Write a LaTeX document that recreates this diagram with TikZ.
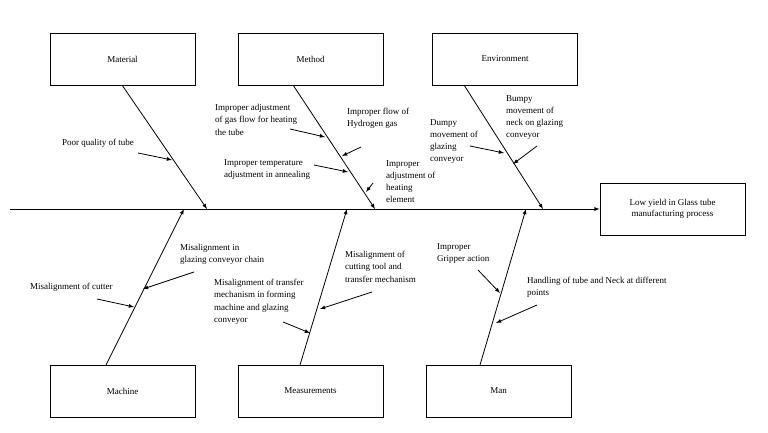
\documentclass[tikz,border=0pt]{standalone}
\usepackage{fontspec}
\setmainfont{Liberation Serif}
\begin{document}
\begin{tikzpicture}[x=1pt,y=-1pt,
  box/.style={draw,thick,minimum width=145pt,minimum height=52pt,font=\fontsize{9}{11}\selectfont},
  lbl/.style={anchor=north west,inner sep=0pt,align=left,font=\fontsize{9}{12.3}\selectfont},
  bone/.style={thick,-latex},
  sub/.style={thick,-latex}]
\useasboundingbox (0,0) rectangle (768,433);
\node[box] (mat) at (122.5,59) {Material};
\node[box] (met) at (310.5,59) {Method};
\node[box] (env) at (505,59) {Environment};
\node[box,align=center] (eff) at (672.5,209) {Low yield in Glass tube\\manufacturing process};
\node[box] (mac) at (122.5,391) {Machine};
\node[box] (mea) at (310.5,391) {Measurements};
\node[box] (man) at (498.5,391) {Man};
\coordinate (s0) at (10,209);
\draw[thick,-latex] (s0) -- (eff.west);
% bones
\coordinate (mt) at (122,85); \coordinate (mb) at (207,209);
\coordinate (et) at (293,85); \coordinate (eb) at (375,209);
\coordinate (nt) at (464,85); \coordinate (nb) at (543,209);
\coordinate (ct) at (106,365); \coordinate (cb) at (184,209);
\coordinate (ut) at (300,365); \coordinate (ub) at (347,209);
\coordinate (at) at (480,365); \coordinate (ab) at (526,209);
\draw[bone] (mt) -- (mb);
\draw[bone] (et) -- (eb);
\draw[bone] (nt) -- (nb);
\draw[bone] (ct) -- (cb);
\draw[bone] (ut) -- (ub);
\draw[bone] (at) -- (ab);
% labels
\node[lbl] (l1) at (62,139) {Poor quality of tube};
\node[lbl] (l2) at (215,104) {Improper adjustment\\of gas flow for heating\\the tube};
\node[lbl] (l3) at (347,108) {Improper flow of\\Hydrogen gas};
\node[lbl] (l4) at (224,159) {Improper temperature\\adjustment in annealing};
\node[lbl] (l5) at (386,160) {Improper\\adjustment of\\heating\\element};
\node[lbl] (l6) at (430,119) {Dumpy\\movement of\\glazing\\conveyor};
\node[lbl] (l7) at (506,95) {Bumpy\\movement of\\neck on glazing\\conveyor};
\node[lbl] (l8) at (180,244) {Misalignment in\\glazing conveyor chain};
\node[lbl] (l9) at (30,283) {Misalignment of cutter};
\node[lbl] (l10) at (345,251) {Misalignment of\\cutting tool and\\transfer mechanism};
\node[lbl] (l11) at (214,279) {Misalignment of transfer\\mechanism in forming\\machine and glazing\\conveyor};
\node[lbl] (l12) at (437,243) {Improper\\Gripper action};
\node[lbl] (l13) at (527,277) {Handling of tube and Neck at different\\points};
% sub arrows
\coordinate (a1) at (138,153); \coordinate (b1) at (172,160);
\coordinate (a2) at (290,129); \coordinate (b2) at (325,137);
\coordinate (a3) at (361,147); \coordinate (b3) at (342,156);
\coordinate (a4) at (314,165); \coordinate (b4) at (348,172);
\coordinate (a5) at (373,183); \coordinate (b5) at (366,192);
\coordinate (a6) at (470,146); \coordinate (b6) at (504,153);
\coordinate (a7) at (537,146); \coordinate (b7) at (513,164);
\coordinate (a8) at (194,272); \coordinate (b8) at (143,289);
\coordinate (a9) at (97,299); \coordinate (b9) at (134,307);
\coordinate (a10) at (372,292); \coordinate (b10) at (320,309);
\coordinate (a11) at (283,322); \coordinate (b11) at (310,333);
\coordinate (a12) at (478,270); \coordinate (b12) at (500,293);
\coordinate (a13) at (537,305); \coordinate (b13) at (496,323);
\foreach \i in {1,...,13} {\draw[sub] (a\i) -- (b\i);}
\end{tikzpicture}
\end{document}
